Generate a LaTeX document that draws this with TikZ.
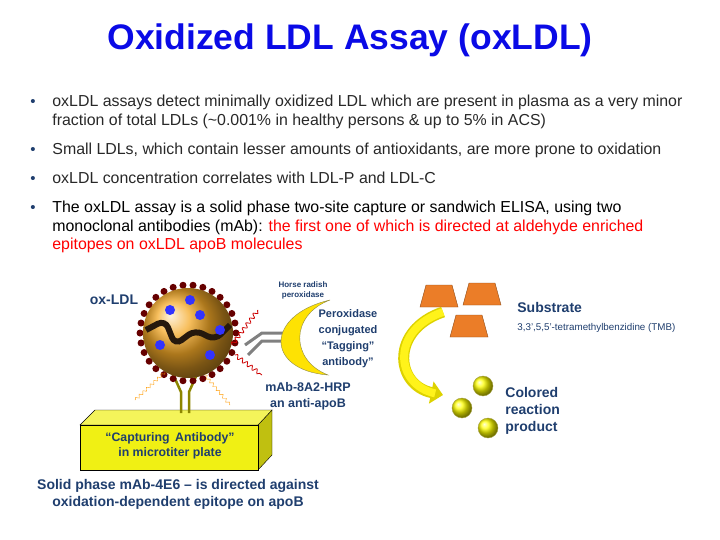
\documentclass[tikz,border=0pt]{standalone}
\usepackage{fontspec}
\setmainfont{Liberation Sans}
\usetikzlibrary{shapes, arrows.meta, positioning, decorations.pathmorphing}
\definecolor{titleblue}{RGB}{10,10,230}
\definecolor{labelblue}{RGB}{31,62,110}
\definecolor{bodygrey}{RGB}{40,40,40}
\definecolor{boxyellow}{RGB}{240,240,20}
\definecolor{subsorange}{RGB}{235,125,40}
\definecolor{ldlorange}{RGB}{245,170,40}

\begin{document}
\begin{tikzpicture}[x=1pt, y=-1pt, thick]
        % Define styles
        \tikzstyle{bullet} = [anchor=north west, inner sep=0pt, text=bodygrey, font=\fontsize{15.9}{18.5}\selectfont, align=left]
        \tikzstyle{label} = [inner sep=0pt, text=labelblue, font=\bfseries\fontsize{14}{17}\selectfont, align=center]
        \tikzstyle{small} = [inner sep=0pt, text=labelblue, font=\bfseries\fontsize{8}{10}\selectfont, align=center]
        \tikzstyle{trap} = [draw=subsorange!60!black, fill=subsorange, thin]
        \tikzstyle{ball} = [circle, minimum size=20pt, inner sep=0pt, draw=yellow!60!black, thin, ball color=yellow]

        \useasboundingbox (0,0) rectangle (720,540);

        % Title
        \node [text=titleblue, font=\bfseries\fontsize{35.5}{40}\selectfont] (title) at (350,40) {Oxidized LDL Assay (oxLDL)};

        % Bullets
        \foreach \y in {103,151,180,209}
            \node [text=labelblue, font=\fontsize{15}{15}\selectfont] at (33,\y) {\textbullet};
        \node [bullet] (b1) at (52,95) {oxLDL assays detect minimally oxidized LDL which are present in plasma as a very minor\\fraction of total LDLs (\textasciitilde0.001\% in healthy persons \& up to 5\% in ACS)};
        \node [bullet] (b2) at (52,143) {Small LDLs, which contain lesser amounts of antioxidants, are more prone to oxidation};
        \node [bullet] (b3) at (52,172) {oxLDL concentration correlates with LDL-P and LDL-C};
        \node [bullet, text=black] (b4) at (52,201) {The oxLDL assay is a solid phase two-site capture or sandwich ELISA, using two\\monoclonal antibodies (mAb): \textcolor{red}{the first one of which is directed at aldehyde enriched}\\\textcolor{red}{epitopes on oxLDL apoB molecules}};

        % Microtiter plate
        \draw [thin, fill=boxyellow!80!black] (258,425) -- (272,410) -- (272,455) -- (258,470) -- cycle;
        \draw [thin, fill=boxyellow!70!white] (80,425) -- (95,410) -- (272,410) -- (258,425) -- cycle;
        \draw [thin, fill=boxyellow] (80,425) rectangle (258,470);
        \node [label, font=\bfseries\fontsize{12.3}{15}\selectfont] (plate) at (170,446) {``Capturing\, Antibody''\\in microtiter plate};
        \node [label] (caption) at (178,494) {Solid phase mAb-4E6 -- is directed against\\oxidation-dependent epitope on apoB};

        % Capturing antibody
        \draw [line width=2.5pt, olive] (181,413) -- (181,392) -- (172,372);
        \draw [line width=2.5pt, olive] (189,413) -- (189,392) -- (198,372);

        % ox-LDL particle
        \foreach \a in {0,12,...,359}
            \fill [red!40!black] (188,333) ++(\a:48) circle (3.5pt);
        \shade [ball color=ldlorange] (188,333) circle (45);
        \draw [line width=6pt, black!80!brown, rounded corners=8pt] (146,330) -- (165,320) -- (175,345) -- (195,330) -- (215,340) -- (230,325);
        \foreach \p in {(170,310),(200,315),(160,345),(210,355),(190,300),(220,330)}
            \fill [blue!80] \p circle (5pt);
        \draw [orange!80!yellow, thin, decorate, decoration={snake, amplitude=1.5pt, segment length=5pt}] (165,372) -- (135,400);
        \draw [orange!80!yellow, thin, decorate, decoration={snake, amplitude=1.5pt, segment length=5pt}] (205,375) -- (230,405);
        \draw [red!80!black, decorate, decoration={snake, amplitude=2pt, segment length=6pt}] (232,345) -- (258,310);
        \draw [red!80!black, decorate, decoration={snake, amplitude=2pt, segment length=6pt}] (235,355) -- (262,375);
        \node [label] (ldl) at (114,300) {ox-LDL};

        % Tagging antibody with HRP
        \draw [line width=3pt, gray] (290,333) -- (262,333) -- (245,345);
        \draw [line width=3pt, gray] (290,341) -- (262,341) -- (248,355);
        \fill [yellow!85!orange, draw=yellow!50!black, thin] (330,300) .. controls (265,315) and (265,370) .. (328,375) .. controls (290,360) and (290,315) .. (330,300) -- cycle;
        \node [small] (hrp) at (303,290) {Horse radish\\peroxidase};
        \node [label, font=\bfseries\fontsize{11}{16}\selectfont] (tag) at (348,339) {Peroxidase\\conjugated\\``Tagging''\\antibody''};
        \node [label, font=\bfseries\fontsize{12.5}{16}\selectfont] (mab) at (308,396) {mAb-8A2-HRP\\an anti-apoB};

        % Substrate
        \draw [trap] (420,307) -- (426,285) -- (452,285) -- (458,307) -- cycle;
        \draw [trap] (463,305) -- (469,283) -- (495,283) -- (501,305) -- cycle;
        \draw [trap] (450,337) -- (456,315) -- (482,315) -- (488,337) -- cycle;
        \node [label, anchor=west] (subs) at (517,307) {Substrate};
        \node [inner sep=0pt, anchor=west, text=labelblue, font=\fontsize{9.8}{11}\selectfont] (tmb) at (517,328) {3,3',5,5'-tetramethylbenzidine (TMB)};

        % Colored product
        \node [ball] (p1) at (483,386) {};
        \node [ball] (p2) at (462,408) {};
        \node [ball] (p3) at (488,428) {};
        \node [label, anchor=west, align=left] (prod) at (505,411) {Colored\\reaction\\product};

        % Reaction arrow
        \coordinate (s0) at (443,312);
        \coordinate (s1) at (443,395);
        \draw [line width=11pt, yellow!70!olive, -{Triangle[length=12pt, width=22pt]}] (s0) .. controls (390,330) and (395,385) .. (s1);
        \draw [line width=8pt, yellow!90!white, shorten >=8pt] (s0) .. controls (390,330) and (395,385) .. (s1);
\end{tikzpicture}
\end{document}
